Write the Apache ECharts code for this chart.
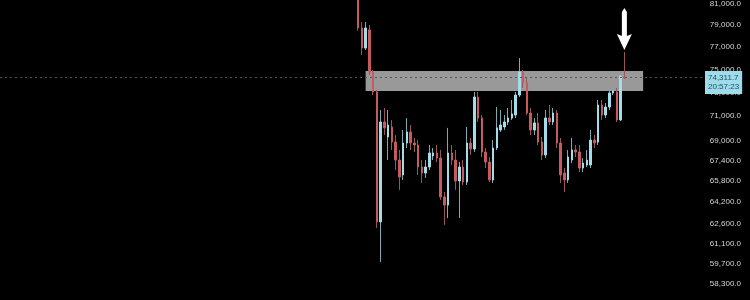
<!DOCTYPE html>
<html><head><meta charset="utf-8">
<script src="https://cdn.jsdelivr.net/npm/echarts@6/dist/echarts.min.js"></script>
<style>html,body{margin:0;padding:0;background:#000;}#c{width:750px;height:300px;}</style>
</head><body><div id="c"></div>
<script>
const opens  = [82600,78750,76920,78570,74790,73050,62710,70520,69290,70110,68880,67440,66270,68800,69700,68800,68640,66890,66420,66890,67760,68000,67600,64580,63970,68000,67440,65800,66890,65720,68800,68320,72620,70850,68080,67280,65880,68400,69860,70110,70520,70850,71100,72790,74790,73830,71270,69860,70440,68880,67840,70850,70520,71270,68800,66420,65880,67440,68240,68080,66810,67050,67050,69040,68880,71940,71100,71770,72960,73050,70690,74350];
const closes = [78750,76920,78750,74790,73050,62710,70520,70030,70270,68880,67440,66110,68800,69700,68800,68640,66890,66420,66890,68000,68000,67600,64580,63970,68000,67440,65800,66890,65720,68800,68320,72620,70850,68080,67280,65880,68400,70030,70270,70520,70850,71190,72790,74790,73830,71270,69860,70440,68880,67840,70850,70520,71270,68800,66270,65880,67680,68240,68080,66810,67200,67440,69040,68800,71940,71100,71770,72960,73130,70690,74430,74311.7];
const lows   = [78500,76290,76740,74520,72790,62270,59830,69450,67440,68240,66650,65110,65880,68400,68240,68080,66270,65650,66030,66650,67440,67280,64350,62490,63000,67050,65110,63000,65490,65490,67840,68080,70520,67680,66810,65720,65650,68240,69700,69860,70270,70690,70850,72620,73390,71100,69450,69450,68640,67440,67600,70270,70270,68400,65650,64960,65650,67200,67680,66500,66500,66890,66810,68400,68640,70690,70850,71520,72790,70520,70600,74170];
const highs  = [83000,79300,79300,79030,74960,73220,71520,71690,71520,70690,69450,68240,69860,70850,70270,69210,69040,67440,67440,68640,68400,68640,68240,64960,70030,68640,68240,67280,67440,70110,69210,73050,73050,71100,68400,67680,69040,71770,71520,71100,71690,72370,73050,76020,74960,74260,71690,70850,71270,69290,71520,71940,71690,71520,69210,66810,68240,69210,68640,68640,67600,68240,69860,69450,72370,72370,72110,73220,73390,73390,74520,76560];
const yTicks = [81000,79000,77000,75000,73000,71000,69000,67400,65800,64200,62600,61100,59700,58300];
const lastPrice = 74311.7;
const lastTime = '20:57:23';
const zoneBounds = [73130, 74870];

const padLeft = 95, padRight = 21;
const n = opens.length;
const total = padLeft + n + padRight;
const categories = Array.from({length: total}, (_, i) => String(i));

const fmt = v => Number(v).toLocaleString('en-US', {minimumFractionDigits: 1, maximumFractionDigits: 1});

const fullData = opens.map((o, i) => [padLeft + i, o, closes[i], lows[i], highs[i]]);
const bodyData = opens.map((o, i) => [padLeft + i, o, closes[i], Math.min(o, closes[i]), Math.max(o, closes[i])]);

const UP = '#a3dde9', DOWN = '#c65a5e';
const WUP = '#7ea9b2', WDOWN = '#9a5558';

const chart = echarts.init(document.getElementById('c'), null, {renderer: 'canvas'});
chart.setOption({
  animation: false,
  backgroundColor: '#000',
  grid: {left: 0, right: 45, top: 0, bottom: 0},
  xAxis: {type: 'category', data: categories, show: false, boundaryGap: true},
  yAxis: {
    type: 'log', logBase: 10, min: 57219, max: 81381, position: 'right',
    axisLine: {show: false}, axisTick: {show: false}, splitLine: {show: false},
    axisLabel: {
      customValues: yTicks,
      formatter: v => fmt(Math.round(v * 10) / 10),
      color: '#d4d4d4', fontSize: 8, fontFamily: 'Liberation Sans',
      align: 'right', margin: 36
    }
  },
  series: [
    {
      type: 'line', data: [], z: 1, silent: true,
      markArea: {
        silent: true,
        itemStyle: {color: '#999999'},
        data: [[{xAxis: padLeft + 2, yAxis: zoneBounds[1]}, {xAxis: padLeft + 76, yAxis: zoneBounds[0]}]]
      }
    },
    {
      type: 'candlestick', z: 3, silent: true, barWidth: 1,
      encode: {x: 0, y: [1, 2, 3, 4]},
      data: fullData,
      itemStyle: {color: WUP, color0: WDOWN, borderColor: WUP, borderColor0: WDOWN, borderWidth: 1}
    },
    {
      type: 'candlestick', z: 4, silent: true, barWidth: 2,
      encode: {x: 0, y: [1, 2, 3, 4]},
      data: bodyData,
      itemStyle: {color: UP, color0: DOWN, borderColor: UP, borderColor0: DOWN, borderWidth: 1},
      markLine: {
        symbol: 'none', silent: true, animation: false,
        lineStyle: {color: '#555555', type: [2, 3], width: 1},
        data: [{yAxis: lastPrice}],
        label: {
          position: 'end', distance: 0,
          formatter: fmt(lastPrice) + '\n' + lastTime,
          backgroundColor: '#9fdcea', color: '#1b4f66',
          fontSize: 8, lineHeight: 9, fontFamily: 'Liberation Sans',
          padding: [2, 3, 3, 3], offset: [0, 5]
        }
      },
      markPoint: {
        silent: true, animation: false,
        data: [{
          coord: [padLeft + n - 1, highs[n - 1]],
          symbol: 'path://M7.5,0 L10,4 L10,28 L15,26 L7.5,42 L0,26 L5,28 L5,4 Z',
          symbolSize: [15, 42], symbolOffset: [0, -23],
          itemStyle: {color: '#ffffff'},
          label: {show: false}
        }]
      }
    }
  ]
});
</script>
</body></html>
